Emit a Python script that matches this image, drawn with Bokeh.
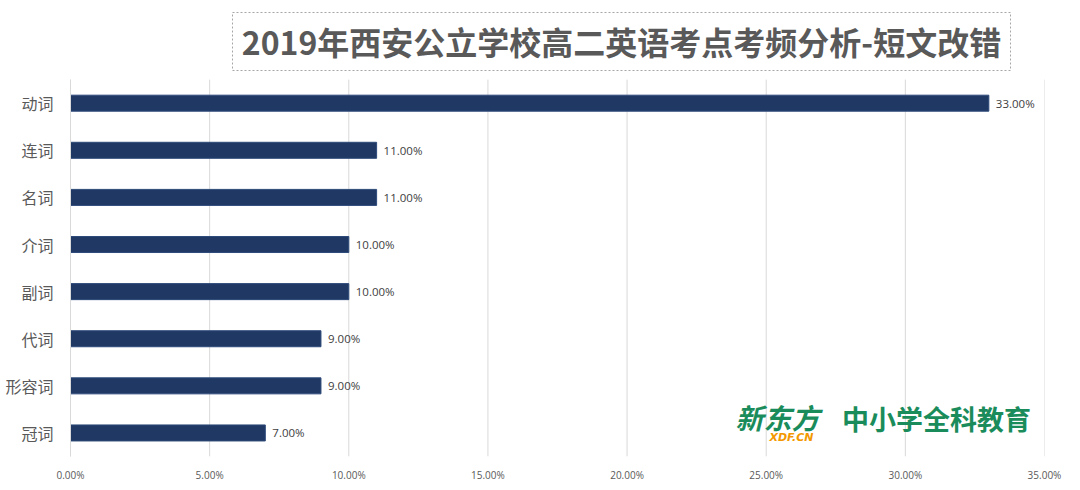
from bokeh.plotting import figure
from bokeh.models import ColumnDataSource, Label, BoxAnnotation, Range1d, FixedTicker
from bokeh.core.properties import value
from bokeh.embed import file_html
from bokeh.resources import INLINE

categories = ["动词", "连词", "名词", "介词", "副词", "代词", "形容词", "冠词"]
values = [33.0, 11.0, 11.0, 10.0, 10.0, 9.0, 9.0, 7.0]
x_ticks = [0, 5, 10, 15, 20, 25, 30, 35]
tick_labels = ["0.00%", "5.00%", "10.00%", "15.00%", "20.00%", "25.00%", "30.00%", "35.00%"]
title_text = "2019年西安公立学校高二英语考点考频分析-短文改错"
logo_main = "新东方"
logo_sub = "XDF.CN"
logo_slogan = "中小学全科教育"

n = len(categories)
# first category drawn at the top
ypos = [n - 1 - i for i in range(n)]

src = ColumnDataSource(dict(
    y=ypos,
    val=values,
    label=[f"{v:.2f}%" for v in values],
))

FRAME_LEFT = 70
FRAME_BOTTOM = 456

def sx(xc):
    return xc - FRAME_LEFT

def sy(yc):
    return FRAME_BOTTOM - yc

p = figure(
    width=1080, height=490,
    x_range=Range1d(0, 35),
    y_range=Range1d(-0.5, 9.18),
    output_backend="svg", toolbar_location=None,
    min_border_left=70, min_border_right=36,
    min_border_top=0, min_border_bottom=34,
)
p.outline_line_color = None
p.background_fill_color = "white"
p.border_fill_color = "white"

# vertical gridlines limited to the category band
p.segment(x0=x_ticks, x1=x_ticks, y0=[-0.5] * len(x_ticks), y1=[n - 0.5] * len(x_ticks),
          line_color="#d9d9d9", line_width=1)

p.hbar(y="y", right="val", left=0, height=0.34, source=src,
       fill_color="#1f3864", line_color="#2e4a7a", line_width=1)
p.text(x="val", y="y", text="label", source=src, x_offset=7,
       text_baseline="middle", text_align="left",
       text_font=value("Open Sans"), text_font_size="11.5px", text_color="#404040")

p.xaxis.ticker = FixedTicker(ticks=x_ticks)
p.xaxis.major_label_overrides = {t: l for t, l in zip(x_ticks, tick_labels)}
p.xaxis.axis_line_color = None
p.xaxis.major_tick_line_color = None
p.xaxis.minor_tick_line_color = None
p.xaxis.major_tick_out = 0
p.xaxis.major_tick_in = 0
p.xaxis.major_label_text_font = "Open Sans"
p.xaxis.major_label_text_font_size = "10px"
p.xaxis.major_label_text_color = "#595959"
p.xaxis.major_label_standoff = 11

p.yaxis.ticker = FixedTicker(ticks=ypos)
p.yaxis.major_label_overrides = {y: c for y, c in zip(ypos, categories)}
p.yaxis.bounds = (-0.5, n - 0.5)
p.yaxis.axis_line_color = "#d9d9d9"
p.yaxis.major_tick_line_color = None
p.yaxis.minor_tick_line_color = None
p.yaxis.major_tick_out = 0
p.yaxis.major_tick_in = 0
p.yaxis.major_label_text_font = "Noto Sans CJK SC"
p.yaxis.major_label_text_font_size = "16px"
p.yaxis.major_label_text_color = "#595959"
p.yaxis.major_label_standoff = 17

p.xgrid.grid_line_color = None
p.ygrid.grid_line_color = None

# title box
p.add_layout(BoxAnnotation(left=sx(232), right=sx(1010), top=sy(12), bottom=sy(70),
                           left_units="screen", right_units="screen",
                           top_units="screen", bottom_units="screen",
                           fill_color=None, fill_alpha=0, line_color="#a6a6a6",
                           line_dash="2 2", line_width=1, line_alpha=1))
p.add_layout(Label(x=sx(621), y=sy(40), x_units="screen", y_units="screen", text=title_text,
                   text_align="center", text_baseline="middle",
                   text_font="Noto Sans CJK SC", text_font_style="bold",
                   text_font_size="32px", text_color="#595959"))

# logo
green = "#1a8c5b"
p.add_layout(Label(x=sx(777), y=sy(416), x_units="screen", y_units="screen", text=logo_main,
                   text_align="center", text_baseline="middle",
                   text_font="Noto Sans CJK SC", text_font_style="bold italic",
                   text_font_size="28px", text_color=green))
p.add_layout(Label(x=sx(791), y=sy(437), x_units="screen", y_units="screen", text=logo_sub,
                   text_align="center", text_baseline="middle",
                   text_font="DejaVu Sans", text_font_style="bold italic",
                   text_font_size="11px", text_color="#f39800"))
p.add_layout(Label(x=sx(936), y=sy(418), x_units="screen", y_units="screen", text=logo_slogan,
                   text_align="center", text_baseline="middle",
                   text_font="Noto Sans CJK SC", text_font_style="bold",
                   text_font_size="27px", text_color=green))

open("out.html", "w").write(file_html(p, INLINE))
